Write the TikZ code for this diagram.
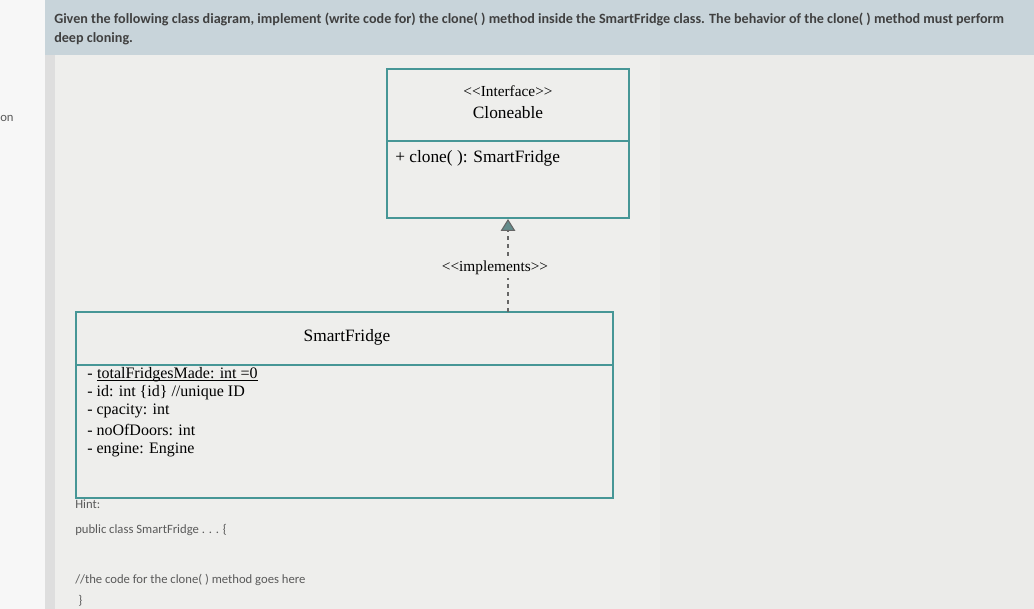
\documentclass[tikz,border=0pt]{standalone}
\usepackage{fontspec}
\setmainfont{Liberation Serif}
\newfontfamily\uisans{Carlito}
\usetikzlibrary{arrows.meta}
\definecolor{teal1}{RGB}{70,150,150}
\definecolor{hdr}{RGB}{200,212,218}
\definecolor{panel}{RGB}{238,238,236}
\definecolor{side}{RGB}{222,222,222}
\definecolor{uitext}{RGB}{90,90,90}
\begin{document}
\begin{tikzpicture}[x=0.75pt,y=-0.75pt,
  umlbox/.style={draw=teal1,line width=1.6pt},
  uml/.style={font=\fontsize{13}{15}\selectfont,inner sep=0pt},
  attr/.style={uml,anchor=west,font=\fontsize{12}{14}\selectfont},
  ui/.style={font=\uisans\fontsize{9.5}{11}\selectfont,text=uitext,anchor=west,inner sep=0pt},
  hd/.style={font=\uisans\bfseries\fontsize{10.6}{12}\selectfont,text=black!75,anchor=west,inner sep=0pt}]
\useasboundingbox (0,0) rectangle (1034,609);
\fill[side] (0,0) rectangle (1034,609);
\fill[hdr] (45,0) rectangle (1034,55);
\fill[panel] (55,55) rectangle (660,609);
\fill[panel!80!side] (660,55) rectangle (1034,609);
\fill[white!75!side] (0,0) rectangle (45,609);
\node[ui] (on) at (0,118) {on};
\node[hd] (q1) at (54,19) {Given the following class diagram, implement (write code for) the clone( ) method inside the SmartFridge class. The behavior of the clone( ) method must perform};
\node[hd] (q2) at (54,39) {deep cloning.};
% interface
\draw[umlbox] (387,69) rectangle (629,218);
\draw[umlbox] (387,141) -- (629,141);
\node[uml,font=\fontsize{11.5}{13}\selectfont] (st) at (508,91) {{<}{<}Interface{>}{>}};
\node[uml] (cl) at (508,113) {Cloneable};
\node[attr,font=\fontsize{13}{15}\selectfont] (m) at (395,158) {+ clone( ): SmartFridge};
\coordinate (top) at (508,219);
\coordinate (bot) at (508,312);
% class
\draw[umlbox] (76,312) rectangle (613,498);
\draw[umlbox] (76,365) -- (613,365);
\node[uml] (sf) at (347,337) {SmartFridge};
\node[attr] (a1) at (87,376) {-};
\node[attr,anchor=base west] (a1u) at ([xshift=3pt]a1.base east) {totalFridgesMade: int =0};
\draw[line width=0.5pt] ([yshift=-1.3pt]a1u.base west) -- ([yshift=-1.3pt]a1u.base east);
\node[attr] (a2) at (87,393) {- id: int \{id\} //unique ID};
\node[attr] (a3) at (87,411) {- cpacity: int};
\node[attr] (a4) at (87,430) {- noOfDoors: int};
\node[attr] (a5) at (87,450) {- engine: Engine};
\draw[dashed,line width=0.8pt,black!60,-{Triangle[length=9pt,width=11pt,fill=teal1!50!gray]}] (bot) -- (top);
\node[uml,font=\fontsize{11.5}{13}\selectfont,fill=panel,inner sep=2pt] (impl) at (495,268) {{<}{<}implements{>}{>}};
\node[ui] (h) at (75,504) {Hint:};
\node[ui] (p) at (75,530) {public class SmartFridge . . . \{};
\node[ui] (c) at (75,580) {//the code for the clone( ) method goes here};
\node[ui] (e) at (78,601) {\}};
\end{tikzpicture}
\end{document}
